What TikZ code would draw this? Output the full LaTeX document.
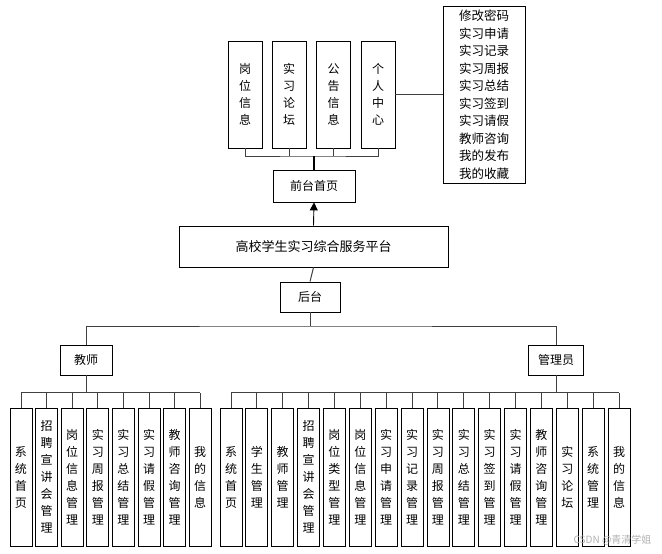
\documentclass[tikz,border=0pt]{standalone}
\usepackage{fontspec}
\setmainfont{Noto Sans CJK SC}
\usetikzlibrary{calc,arrows.meta}
\begin{document}
\begin{tikzpicture}[x=1pt,y=-1pt,
  bx/.style={draw,line width=0.8pt,inner sep=0pt,font=\fontsize{12}{17}\selectfont,align=center},
  ln/.style={draw=black!75,line width=1pt}]
\useasboundingbox (0,0) rectangle (662,554);
% top
\foreach \n/\x/\t in {a/245/岗\\位\\信\\息, b/289/实\\习\\论\\坛, c/333.5/公\\告\\信\\息, d/378/个\\人\\中\\心}{
  \node[bx,minimum width=34pt,minimum height=107pt] (\n) at (\x,94.5) {\t};
}
\node[bx,minimum width=82pt,minimum height=177pt,font=\fontsize{12.5}{17.5}\selectfont] (pc) at (484,94.5) {修改密码\\实习申请\\实习记录\\实习周报\\实习总结\\实习签到\\实习请假\\教师咨询\\我的发布\\我的收藏};
\draw[ln] (d.east) -- (pc.west);
\node[bx,minimum width=82pt,minimum height=32pt] (qt) at (314,186) {前台首页};
\coordinate (tb) at (314,156);
\draw[ln] (a.south) |- (tb) -| (d.south);
\draw[ln] (b.south) -- (b.south|-tb);
\draw[ln] (c.south) -- (c.south|-tb);
\draw[line width=1.3pt] (qt.north) -- (tb);
\node[bx,minimum width=269pt,minimum height=41pt,font=\fontsize{13}{17}\selectfont] (pf) at (313.5,246.5) {高校学生实习综合服务平台};
\draw[line width=0.9pt,-{Triangle[length=8pt,width=8pt]}] (pf.north) -- (qt.south);
\node[bx,minimum width=60pt,minimum height=30pt] (ht) at (310,297) {后台};
\draw[ln] (pf.south) -- (ht.north);
\node[bx,minimum width=52pt,minimum height=30pt] (js) at (86,360) {教师};
\node[bx,minimum width=55pt,minimum height=30pt] (gl) at (556,360) {管理员};
\coordinate (hb) at (310,326);
\draw[ln] (ht.south) -- (hb);
\draw[ln] (js.north) |- (hb) -| (gl.north);
% teacher children
\foreach \i/\t in {0/系\\统\\首\\页, 1/招\\聘\\宣\\讲\\会\\管\\理, 2/岗\\位\\信\\息\\管\\理, 3/实\\习\\周\\报\\管\\理, 4/实\\习\\总\\结\\管\\理, 5/实\\习\\请\\假\\管\\理, 6/教\\师\\咨\\询\\管\\理, 7/我\\的\\信\\息}{
  \node[bx,minimum width=22pt,minimum height=138pt] (t\i) at ({21+25.6*\i},477) {\t};
  \draw[ln] (t\i.north) -- ++(0,-15);
}
\draw[ln] ($(t0.north)+(0,-15)$) -- ($(t7.north)+(0,-15)$);
\draw[ln] (js.south) -- (86,393);
% admin children
\foreach \i/\t in {0/系\\统\\首\\页, 1/学\\生\\管\\理, 2/教\\师\\管\\理, 3/招\\聘\\宣\\讲\\会\\管\\理, 4/岗\\位\\类\\型\\管\\理, 5/岗\\位\\信\\息\\管\\理, 6/实\\习\\申\\请\\管\\理, 7/实\\习\\记\\录\\管\\理, 8/实\\习\\周\\报\\管\\理, 9/实\\习\\总\\结\\管\\理, 10/实\\习\\签\\到\\管\\理, 11/实\\习\\请\\假\\管\\理, 12/教\\师\\咨\\询\\管\\理, 13/实\\习\\论\\坛, 14/系\\统\\管\\理, 15/我\\的\\信\\息}{
  \node[bx,minimum width=22pt,minimum height=138pt] (m\i) at ({231+25.87*\i},477) {\t};
  \draw[ln] (m\i.north) -- ++(0,-15);
}
\draw[ln] ($(m0.north)+(0,-15)$) -- ($(m15.north)+(0,-15)$);
\draw[ln] (gl.south) -- (556,393);
\node[text=black!30,font=\fontsize{10}{12}\selectfont,anchor=east] (wm) at (655,540) {CSDN @青清学姐};
\end{tikzpicture}
\end{document}
